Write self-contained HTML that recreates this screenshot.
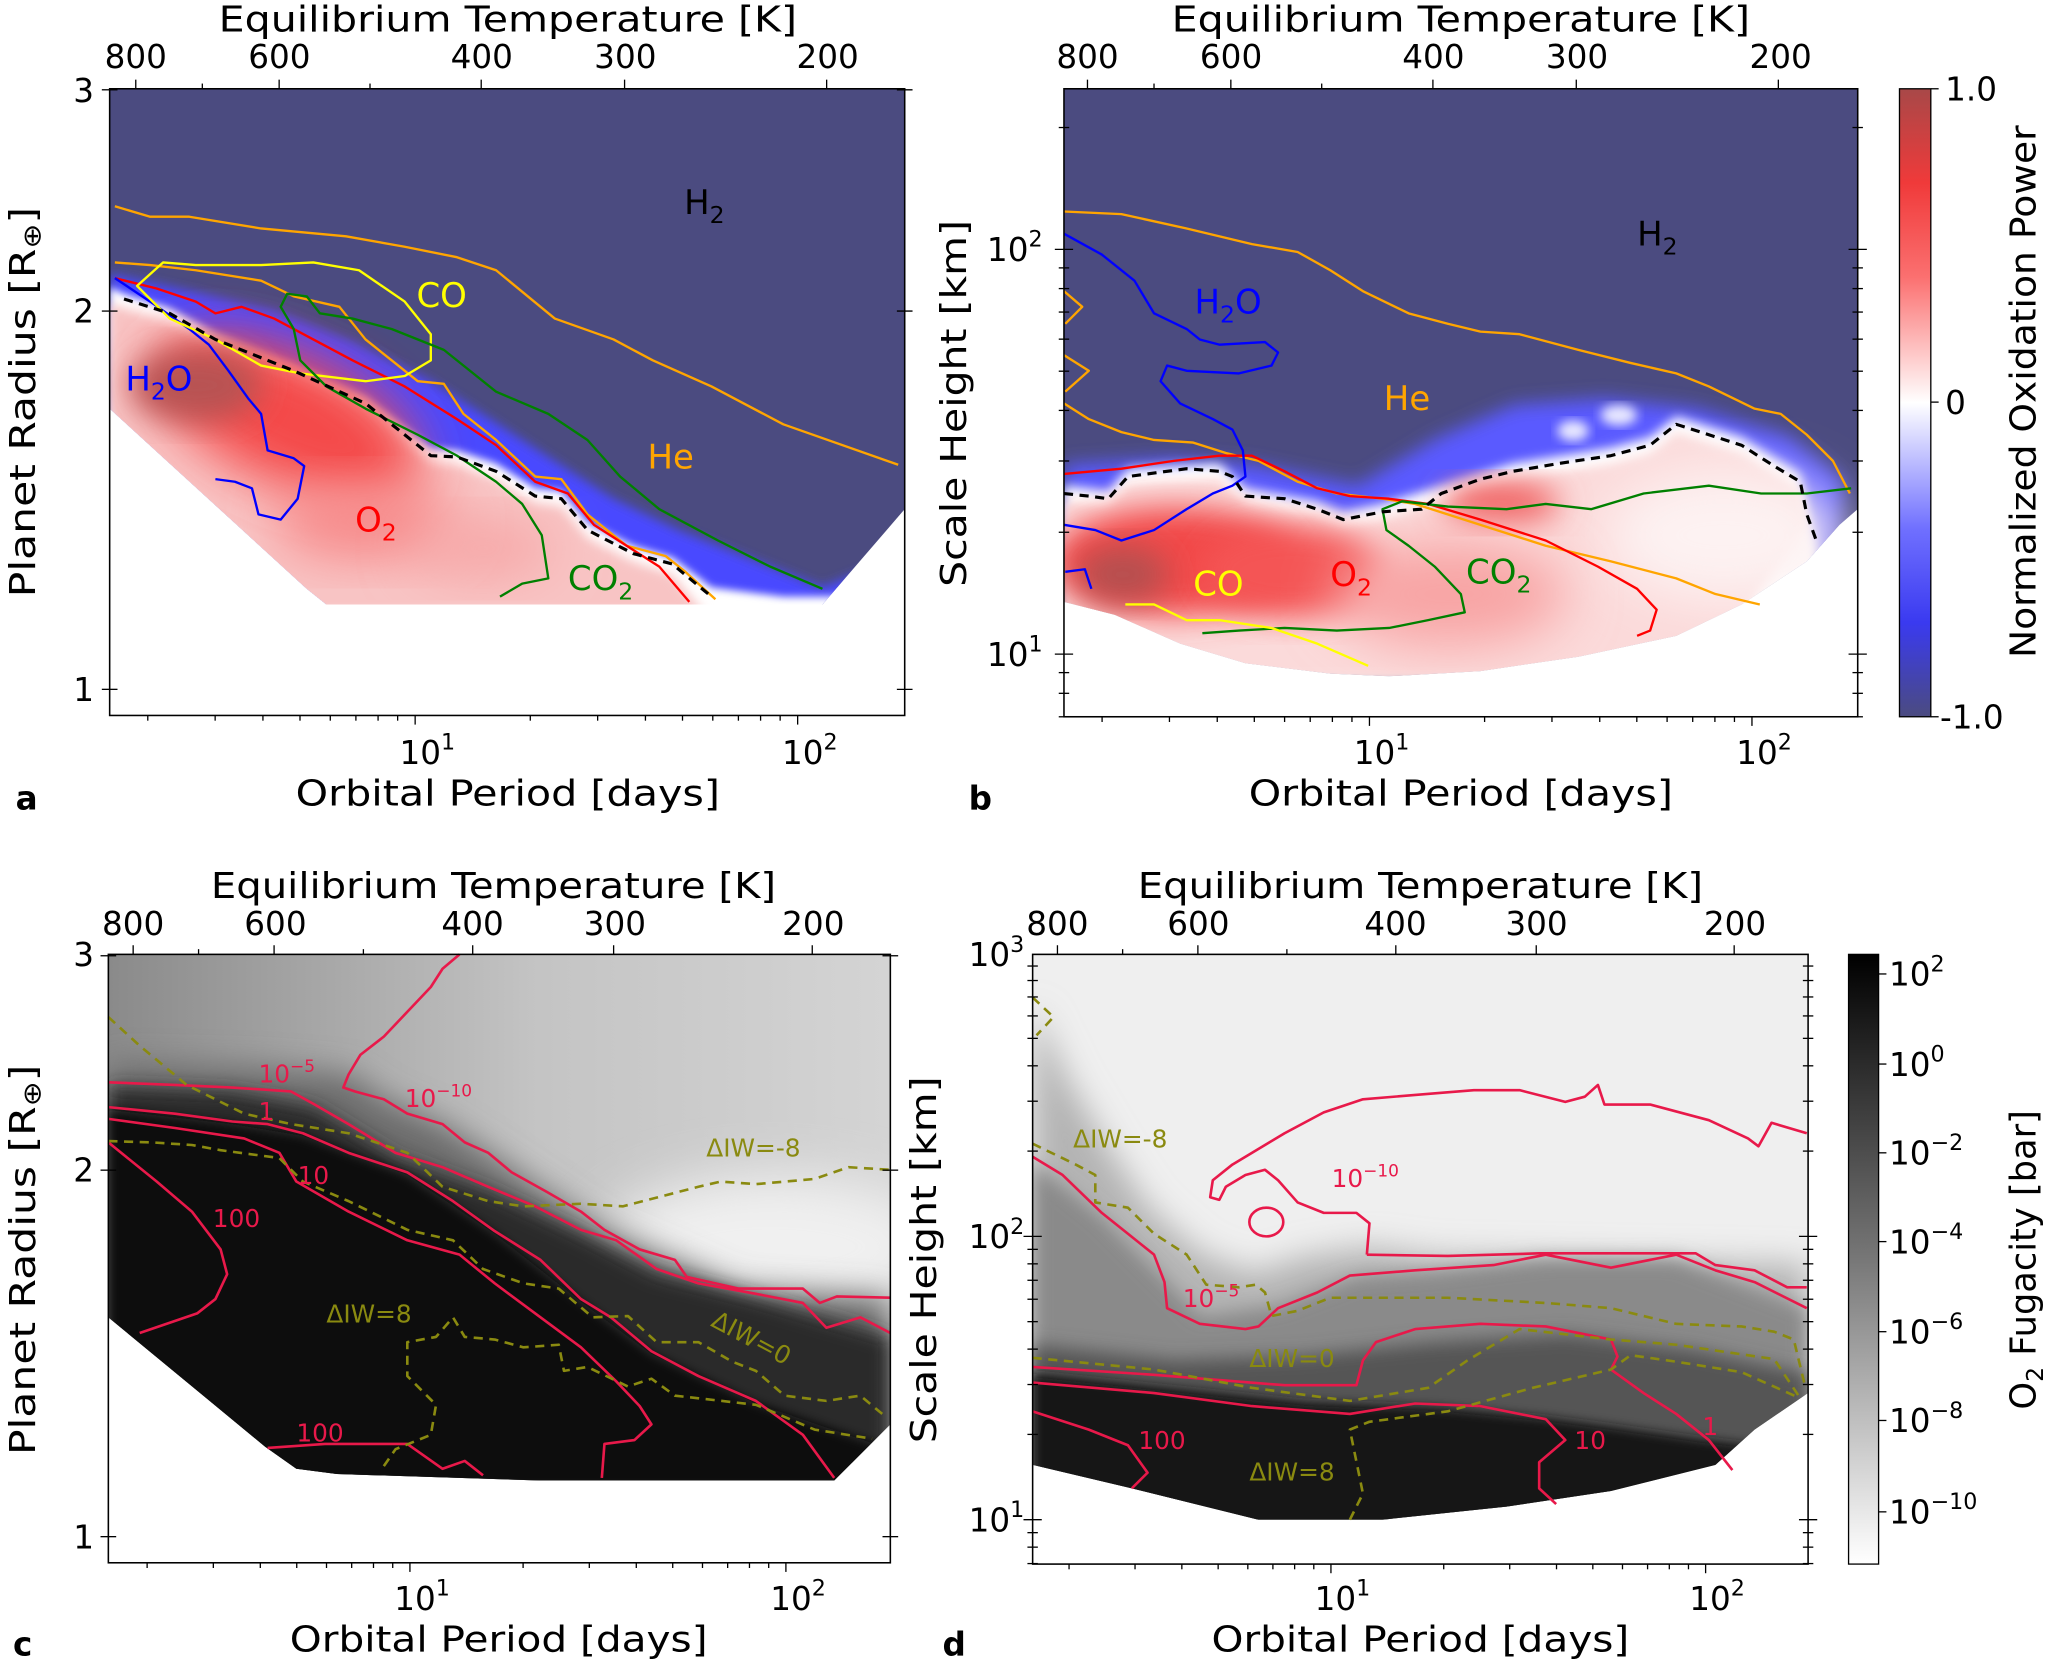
<!DOCTYPE html>
<html><head><meta charset="utf-8"><style>html,body{margin:0;padding:0;background:#fff}svg{display:block}</style></head>
<body>
<svg xmlns="http://www.w3.org/2000/svg" width="2047" height="1662" viewBox="0 0 1568 1273" preserveAspectRatio="none" font-family="DejaVu Sans, Liberation Sans, sans-serif">
<defs>
<filter id="b3" x="-20%" y="-20%" width="140%" height="140%"><feGaussianBlur stdDeviation="3"/></filter>
<filter id="b4" x="-20%" y="-20%" width="140%" height="140%"><feGaussianBlur stdDeviation="4"/></filter>
<filter id="b7" x="-20%" y="-20%" width="140%" height="140%"><feGaussianBlur stdDeviation="7"/></filter>
<filter id="b12" x="-30%" y="-30%" width="160%" height="160%"><feGaussianBlur stdDeviation="12"/></filter>
<filter id="b20" x="-40%" y="-40%" width="180%" height="180%"><feGaussianBlur stdDeviation="20"/></filter>
<clipPath id="ca"><polygon points="84,68 693,68 693,390 630,463 250,463 235,451 84,313"/></clipPath>
<clipPath id="cb"><polygon points="815,68 1423,68 1423,390 1409,402 1384,430 1334,463 1284,487 1209,503 1134,514 1064,518 1019,516 954,508 904,493 854,471 815,461"/></clipPath>
<clipPath id="cc"><polygon points="83,731 682,731 682,1091 639,1134 414,1134 258,1129 227,1125 203,1108 83,1009"/></clipPath>
<clipPath id="cd"><polygon points="791,731 1385,731 1385,1067 1344,1095 1314,1122 1234,1142 1154,1154 1059,1164 964,1164 867,1140 791,1122"/></clipPath>
<linearGradient id="gc" x1="0" y1="0" x2="1" y2="0"><stop offset="0" stop-color="#8a8a8a"/><stop offset="0.55" stop-color="#c4c4c4"/><stop offset="1" stop-color="#d4d4d4"/></linearGradient>
<linearGradient id="cbb" x1="0" y1="0" x2="0" y2="1"><stop offset="0" stop-color="#a84848"/><stop offset="0.15" stop-color="#f03a3a"/><stop offset="0.3" stop-color="#fb7070"/><stop offset="0.5" stop-color="#ffffff"/><stop offset="0.7" stop-color="#7070ff"/><stop offset="0.85" stop-color="#3a3af0"/><stop offset="1" stop-color="#4b4b80"/></linearGradient>
<linearGradient id="cbd" x1="0" y1="0" x2="0" y2="1"><stop offset="0" stop-color="#000"/><stop offset="0.5" stop-color="#777"/><stop offset="1" stop-color="#fff"/></linearGradient>
</defs>

<!-- ===== Panel a ===== -->
<g clip-path="url(#ca)">
<rect x="84" y="68" width="609" height="400" fill="#4b4b80"/>
<polygon filter="url(#b4)" fill="#4848ff" points="84,210 150,224 210,238 270,262 330,292 380,324 420,350 470,382 520,406 570,426 630,450 693,425 693,480 84,480"/>
<polygon filter="url(#b3)" fill="#ffffff" points="84,220 95,225 130,236 165,255 225,279 280,304 330,343 350,345 380,355 410,374 430,376 450,400 485,418 515,427 545,450 600,457 693,457 693,480 84,480"/>
<polygon filter="url(#b4)" fill="#f8c4c4" points="84,232 95,236 130,247 165,266 225,290 280,315 330,355 350,356 380,367 410,386 430,388 450,412 485,430 515,440 540,470 84,470"/>
<ellipse cx="220" cy="320" rx="110" ry="50" transform="rotate(25 220 320)" fill="#f44848" filter="url(#b20)"/>
<ellipse cx="150" cy="295" rx="50" ry="28" fill="#b85252" filter="url(#b12)"/>
<ellipse cx="280" cy="400" rx="70" ry="28" fill="#f78a8a" filter="url(#b20)"/>
<ellipse cx="370" cy="420" rx="55" ry="22" fill="#f6a6a6" filter="url(#b20)"/>
</g>
<g fill="none" stroke-width="1.8" stroke-linejoin="round">
<polyline stroke="#ffa500" points="88,158 115,166 145,166 200,175 265,181 310,189 350,197 380,207 425,244 470,260 500,276 545,296 600,325 688,356"/>
<polyline stroke="#ffa500" points="88,201 115,203 150,207 200,215 225,227 260,235 280,260 300,276 320,292 340,294 355,317 380,337 410,365 430,367 450,394 480,418 510,426 525,438 548,459"/>
<polyline stroke="#ff0000" points="88,213 120,221 150,231 165,240 185,235 210,244 240,260 270,276 310,296 350,321 380,341 410,369 435,378 455,402 480,418 505,434 528,461"/>
<polyline stroke="#0000ff" points="88,213 115,231 145,252 160,264 175,284 190,305 200,317 205,345 225,351 233,357 228,382 215,398 198,394 193,374 180,369 165,367"/>
<polygon stroke="#ffff00" points="105,219 125,201 150,203 200,203 240,201 275,207 310,231 330,256 330,276 310,288 280,292 230,286 200,280 165,260 130,244"/>
<polyline stroke="#008000" points="383,457 400,447 420,443 415,410 400,386 380,369 350,349 320,333 280,313 250,296 230,276 225,252 215,235 220,225 235,227 245,240 270,244 300,252 340,268 380,300 420,317 450,337 475,365 505,390 550,414 590,434 630,451"/>
<polyline stroke="#000" stroke-width="2.4" stroke-dasharray="7,5" points="95,229 130,240 165,260 225,284 280,309 330,349 350,350 380,361 410,380 430,382 450,406 485,424 515,432 545,457"/>
</g>
<g font-size="26">
<text x="524" y="164" fill="#000">H<tspan font-size="18" dy="7">2</tspan></text>
<text x="319" y="235" fill="#ffff00">CO</text>
<text x="96" y="299" fill="#0000ff">H<tspan font-size="18" dy="7">2</tspan><tspan dy="-7">O</tspan></text>
<text x="496" y="359" fill="#ffa500">He</text>
<text x="272" y="407" fill="#ff0000">O<tspan font-size="18" dy="7">2</tspan></text>
<text x="435" y="452" fill="#008000">CO<tspan font-size="18" dy="7">2</tspan></text>
</g>
<rect x="84" y="68" width="609" height="480" fill="none" stroke="#000" stroke-width="1.2"/>

<!-- ===== Panel b ===== -->
<g clip-path="url(#cb)">
<rect x="815" y="68" width="608" height="460" fill="#4b4b80"/>
<polygon filter="url(#b7)" fill="#5a5aff" points="815,356 900,351 960,356 1040,372 1100,336 1160,310 1230,305 1300,313 1370,334 1412,368 1405,430 815,430"/>
<polygon filter="url(#b4)" fill="#ffffff" points="815,372 849,376 864,359 934,355 954,374 1009,384 1029,392 1059,386 1104,372 1159,355 1234,343 1264,335 1284,319 1334,335 1379,363 1384,390 1392,420 1392,520 815,520"/>
<ellipse cx="1205" cy="330" rx="12" ry="8" fill="#e8e8ff" filter="url(#b4)"/>
<ellipse cx="1240" cy="318" rx="14" ry="8" fill="#e8e8ff" filter="url(#b4)"/>
<polygon filter="url(#b4)" fill="#fbdada" points="815,384 849,388 864,371 934,367 954,386 1009,396 1029,404 1059,398 1104,384 1159,367 1234,355 1264,347 1284,331 1334,347 1379,375 1384,400 1300,520 815,520"/>
<ellipse cx="1320" cy="410" rx="90" ry="50" fill="#fdf2f2" filter="url(#b20)"/>
<ellipse cx="900" cy="430" rx="95" ry="42" fill="#f24848" filter="url(#b12)"/>
<ellipse cx="990" cy="438" rx="70" ry="35" fill="#f45555" filter="url(#b12)"/>
<ellipse cx="860" cy="440" rx="35" ry="22" fill="#b55050" filter="url(#b12)"/>
<ellipse cx="1150" cy="385" rx="45" ry="16" fill="#f06060" filter="url(#b12)"/>
<ellipse cx="1110" cy="455" rx="90" ry="40" fill="#f8a4a4" filter="url(#b20)"/>
</g>
<g fill="none" stroke-width="1.8" stroke-linejoin="round">
<polyline stroke="#ffa500" points="815,162 859,164 909,175 959,187 994,193 1019,207 1044,223 1079,240 1109,248 1134,254 1164,256 1209,268 1249,278 1284,286 1309,296 1344,313 1364,317 1384,333 1404,353 1417,378"/>
<polyline stroke="#ffa500" points="815,223 829,235 816,248"/>
<polyline stroke="#ffa500" points="815,272 834,284 816,300"/>
<polyline stroke="#ffa500" points="815,309 834,321 859,331 884,337 914,339 939,347 964,353 994,369 1024,378 1059,382 1084,386 1134,402 1184,418 1234,430 1284,443 1314,455 1348,463"/>
<polyline stroke="#ff0000" points="815,363 859,359 899,353 934,349 959,349 984,361 1009,374 1034,380 1064,382 1094,386 1134,398 1184,414 1224,434 1254,451 1269,467 1264,483 1254,487"/>
<polyline stroke="#0000ff" points="815,179 844,195 869,215 884,240 909,252 919,260 934,264 969,262 979,270 974,280 949,286 909,284 894,280 889,292 904,309 929,321 944,329 952,345 954,365 944,372 929,378 909,390 884,406 859,414 839,406 815,402"/>
<polyline stroke="#0000ff" points="816,438 831,436 836,451"/>
<polyline stroke="#008000" points="921,485 949,483 984,481 1024,483 1064,481 1094,475 1122,469 1119,455 1099,434 1079,418 1062,406 1059,390 1074,384 1109,388 1154,390 1184,386 1219,390 1259,378 1309,372 1349,378 1384,378 1418,374"/>
<polyline stroke="#ffff00" points="862,463 884,463 909,475 934,475 974,481 1009,493 1048,510"/>
<polyline stroke="#000" stroke-width="2.4" stroke-dasharray="7,5" points="815,378 834,380 849,382 864,365 909,359 934,361 944,365 954,380 984,382 1009,390 1029,398 1059,392 1089,390 1104,378 1134,367 1159,361 1194,355 1234,349 1264,341 1284,325 1309,333 1334,341 1359,357 1379,369 1384,394 1392,416"/>
</g>
<g font-size="26">
<text x="1254" y="188" fill="#000">H<tspan font-size="18" dy="7">2</tspan></text>
<text x="915" y="240" fill="#0000ff">H<tspan font-size="18" dy="7">2</tspan><tspan dy="-7">O</tspan></text>
<text x="1060" y="314" fill="#ffa500">He</text>
<text x="914" y="456" fill="#ffff00">CO</text>
<text x="1019" y="449" fill="#ff0000">O<tspan font-size="18" dy="7">2</tspan></text>
<text x="1123" y="447" fill="#008000">CO<tspan font-size="18" dy="7">2</tspan></text>
</g>
<rect x="815" y="68" width="608" height="481" fill="none" stroke="#000" stroke-width="1.2"/>
<rect x="1455" y="68" width="24" height="481" fill="url(#cbb)" stroke="#000" stroke-width="1"/>

<!-- ===== Panel c ===== -->
<g clip-path="url(#cc)">
<rect x="83" y="731" width="599" height="410" fill="url(#gc)"/>
<ellipse cx="590" cy="955" rx="130" ry="55" fill="#f0f0f0" filter="url(#b20)"/>
<polygon filter="url(#b12)" fill="#6c6c6c" points="83,815 200,818 267,823 294,842 339,861 374,883 419,913 463,942 517,965 566,987 682,994 682,1140 83,1140"/>
<polygon filter="url(#b7)" fill="#2c2c2c" points="83,832 178,836 241,848 303,886 374,912 445,945 503,975 579,994 682,1024 682,1140 83,1140"/>
<polygon filter="url(#b4)" fill="#0c0c0c" points="83,850 178,861 232,870 312,900 379,945 445,997 499,1037 579,1075 682,1110 682,1140 83,1140"/>
</g>
<g fill="none" stroke="#e8194a" stroke-width="2" stroke-linejoin="round">
<polyline points="352,731 339,742 330,756 294,794 276,808 267,823 263,833 272,836 294,842 312,853 339,861 356,875 374,883 392,898 419,913 445,928 463,942 490,957 517,965 526,978 566,987 615,987 628,998 641,993 682,994"/>
<polyline points="83,829 134,831 178,833 223,836 241,846 267,861 303,883 339,894 374,909 410,924 445,942 472,950 503,972 535,983 579,991 615,998 633,1017 659,1009 682,1021"/>
<polyline points="83,848 134,853 178,859 205,861 232,868 267,883 312,898 347,920 379,943 414,965 445,995 468,1009 499,1035 535,1054 579,1073 615,1099 639,1132"/>
<polyline points="83,857 134,864 187,872 214,883 227,905 267,928 312,950 352,961 379,983 414,1009 445,1032 472,1058 490,1077 499,1091 486,1103 463,1106 461,1132"/>
<polyline points="83,875 120,905 147,928 169,957 174,976 165,995 151,1006 107,1021"/>
<polyline points="205,1109 249,1106 312,1106 339,1125 356,1119 370,1130"/>
</g>
<g fill="none" stroke="#8a8a10" stroke-width="2" stroke-dasharray="7,5" stroke-linejoin="round">
<polyline points="83,779 107,801 143,831 187,853 223,861 267,868 312,883 339,909 374,920 401,924 445,922 477,924 508,916 535,909 552,905 579,907 624,903 650,894 682,896"/>
<polyline points="83,874 116,875 147,877 169,881 214,887 232,905 267,920 312,942 347,950 370,972 401,983 428,987 454,1009 481,1008 503,1028 535,1028 561,1043 579,1050 601,1069 633,1073 659,1069 677,1084"/>
<polyline points="294,1123 303,1110 330,1099 334,1076 312,1054 312,1028 334,1024 347,1009 356,1024 379,1026 401,1032 428,1030 432,1050 450,1047 481,1062 499,1056 517,1069 535,1071 579,1076 624,1095 668,1102"/>
</g>
<g font-size="19">
<text x="198" y="829" fill="#e8194a">10<tspan font-size="13" dy="-8">−5</tspan></text>
<text x="198" y="858" fill="#e8194a">1</text>
<text x="310" y="848" fill="#e8194a">10<tspan font-size="13" dy="-8">−10</tspan></text>
<text x="228" y="907" fill="#e8194a">10</text>
<text x="163" y="940" fill="#e8194a">100</text>
<text x="227" y="1104" fill="#e8194a">100</text>
<text x="541" y="886" fill="#8a8a10">ΔIW=-8</text>
<text x="250" y="1013" fill="#8a8a10">ΔIW=8</text>
<text x="541" y="1030" fill="#8a8a10" transform="rotate(28 572 1028)">ΔIW=0</text>
</g>
<rect x="83" y="731" width="599" height="466" fill="none" stroke="#000" stroke-width="1.2"/>

<!-- ===== Panel d ===== -->
<g clip-path="url(#cd)">
<rect x="791" y="731" width="594" height="440" fill="#efefef"/>
<polygon filter="url(#b12)" fill="#b4b4b4" points="791,770 820,830 850,880 880,925 920,960 960,975 1000,962 1050,955 1100,962 1385,968 1385,1200 791,1200"/>
<polygon filter="url(#b7)" fill="#8a8a8a" points="791,890 844,932 884,972 920,1008 980,1000 1040,978 1100,974 1184,964 1284,964 1384,1002 1385,1200 791,1200"/>
<polygon filter="url(#b7)" fill="#555555" points="791,1030 900,1042 1000,1038 1100,1028 1200,1022 1300,1034 1385,1052 1385,1200 791,1200"/>
<polygon filter="url(#b4)" fill="#151515" points="791,1052 884,1062 1000,1074 1100,1078 1184,1086 1230,1092 1300,1102 1385,1112 1385,1200 791,1200"/>
</g>
<g fill="none" stroke="#e8194a" stroke-width="2" stroke-linejoin="round">
<polyline points="1384,868 1357,860 1347,878 1339,872 1309,858 1264,846 1229,846 1224,831 1214,840 1199,844 1164,835 1129,835 1104,837 1044,842 1014,852 984,868 944,892 929,904 927,917 934,919 939,909 954,900 969,896 979,904 994,921 1014,929 1039,929 1049,937 1047,961"/>
<polyline points="1047,961 1109,962 1179,960 1299,960 1314,969 1344,973 1369,986 1384,986"/>
<ellipse cx="970" cy="936" rx="13" ry="11"/>
<polyline points="791,886 814,900 844,929 864,945 884,961 892,982 894,1002 919,1014 954,1018 964,1016 979,1002 1009,990 1034,977 1084,973 1144,969 1184,961 1234,971 1284,961 1314,973 1344,982 1384,1002"/>
<polyline points="791,1047 884,1053 984,1061 1039,1061 1044,1042 1054,1028 1084,1018 1134,1014 1184,1016 1234,1026 1239,1039 1234,1049 1259,1067 1284,1083 1309,1103 1327,1126"/>
<polyline points="791,1059 884,1067 959,1077 1034,1083 1084,1075 1134,1077 1184,1087 1199,1103 1179,1120 1179,1140 1192,1152"/>
<polyline points="791,1081 834,1095 864,1107 879,1128 867,1140"/>
</g>
<g fill="none" stroke="#8a8a10" stroke-width="2" stroke-dasharray="7,5" stroke-linejoin="round">
<polyline points="791,764 807,779 794,793"/>
<polyline points="791,876 824,892 839,900 839,921 864,925 884,945 909,961 924,984 949,986 962,984 969,990 974,1008 994,1004 1019,994 1044,994 1109,994 1184,998 1234,1002 1284,1014 1334,1016 1359,1020 1374,1026 1382,1059"/>
<polyline points="791,1040 884,1049 959,1063 1034,1073 1094,1063 1124,1042 1164,1018 1234,1026 1284,1030 1359,1041 1379,1071"/>
<polyline points="1034,1164 1044,1144 1034,1095 1049,1089 1109,1081 1174,1063 1234,1049 1249,1038 1284,1043 1334,1051 1379,1071"/>
</g>
<g font-size="19">
<text x="822" y="879" fill="#8a8a10">ΔIW=-8</text>
<text x="1020" y="909" fill="#e8194a">10<tspan font-size="13" dy="-8">−10</tspan></text>
<text x="906" y="1001" fill="#e8194a">10<tspan font-size="13" dy="-8">−5</tspan></text>
<text x="957" y="1047" fill="#8a8a10">ΔIW=0</text>
<text x="872" y="1110" fill="#e8194a">100</text>
<text x="957" y="1134" fill="#8a8a10">ΔIW=8</text>
<text x="1206" y="1110" fill="#e8194a">10</text>
<text x="1304" y="1099" fill="#e8194a">1</text>
</g>
<rect x="791" y="731" width="594" height="467" fill="none" stroke="#000" stroke-width="1.2"/>
<rect x="1416" y="731" width="23" height="467" fill="url(#cbd)" stroke="#000" stroke-width="1"/>

<!-- ticks -->
<g id="tk" stroke="#000" stroke-width="1"></g>

<!-- axis text -->
<g font-size="27" fill="#000">
<text x="389" y="24" text-anchor="middle" textLength="443" lengthAdjust="spacingAndGlyphs">Equilibrium Temperature [K]</text>
<text x="1119" y="24" text-anchor="middle" textLength="443" lengthAdjust="spacingAndGlyphs">Equilibrium Temperature [K]</text>
<text x="378" y="688" text-anchor="middle" textLength="433" lengthAdjust="spacingAndGlyphs">Equilibrium Temperature [K]</text>
<text x="1088" y="688" text-anchor="middle" textLength="433" lengthAdjust="spacingAndGlyphs">Equilibrium Temperature [K]</text>
<text x="389" y="617" text-anchor="middle" textLength="325" lengthAdjust="spacingAndGlyphs">Orbital Period [days]</text>
<text x="1119" y="617" text-anchor="middle" textLength="325" lengthAdjust="spacingAndGlyphs">Orbital Period [days]</text>
<text x="382" y="1265" text-anchor="middle" textLength="320" lengthAdjust="spacingAndGlyphs">Orbital Period [days]</text>
<text x="1088" y="1265" text-anchor="middle" textLength="320" lengthAdjust="spacingAndGlyphs">Orbital Period [days]</text>
<text transform="translate(27,308) rotate(-90)" text-anchor="middle" textLength="299" lengthAdjust="spacingAndGlyphs">Planet Radius [R<tspan font-size="19" dy="4">⊕</tspan><tspan dy="-4">]</tspan></text>
<text transform="translate(27,965) rotate(-90)" text-anchor="middle" textLength="299" lengthAdjust="spacingAndGlyphs">Planet Radius [R<tspan font-size="19" dy="4">⊕</tspan><tspan dy="-4">]</tspan></text>
<text transform="translate(740,309) rotate(-90)" text-anchor="middle" textLength="281" lengthAdjust="spacingAndGlyphs">Scale Height [km]</text>
<text transform="translate(717,965) rotate(-90)" text-anchor="middle" textLength="281" lengthAdjust="spacingAndGlyphs">Scale Height [km]</text>
<text transform="translate(1559,300) rotate(-90)" text-anchor="middle" textLength="408" lengthAdjust="spacingAndGlyphs">Normalized Oxidation Power</text>
<text transform="translate(1559,965) rotate(-90)" text-anchor="middle">O<tspan font-size="18" dy="6">2</tspan><tspan dy="-6"> Fugacity [bar]</tspan></text>
</g>
<g font-size="25" font-weight="bold"><text x="12" y="620">a</text><text x="742" y="620">b</text><text x="10" y="1268">c</text><text x="722" y="1268">d</text></g>
<g font-size="25" text-anchor="middle">
<text x="104" y="52">800</text><text x="214" y="52">600</text><text x="369" y="52">400</text><text x="479" y="52">300</text><text x="634" y="52">200</text>
<text x="833" y="52">800</text><text x="943" y="52">600</text><text x="1098" y="52">400</text><text x="1208" y="52">300</text><text x="1364" y="52">200</text>
<text x="102" y="716">800</text><text x="211" y="716">600</text><text x="362" y="716">400</text><text x="471" y="716">300</text><text x="623" y="716">200</text>
<text x="810" y="716">800</text><text x="918" y="716">600</text><text x="1069" y="716">400</text><text x="1177" y="716">300</text><text x="1329" y="716">200</text>
</g>
<g font-size="25">
<text x="306" y="585">10<tspan font-size="17" dy="-11">1</tspan></text><text x="599" y="585">10<tspan font-size="17" dy="-11">2</tspan></text>
<text x="1037" y="585">10<tspan font-size="17" dy="-11">1</tspan></text><text x="1330" y="585">10<tspan font-size="17" dy="-11">2</tspan></text>
<text x="302" y="1233">10<tspan font-size="17" dy="-11">1</tspan></text><text x="590" y="1233">10<tspan font-size="17" dy="-11">2</tspan></text>
<text x="1007" y="1233">10<tspan font-size="17" dy="-11">1</tspan></text><text x="1294" y="1233">10<tspan font-size="17" dy="-11">2</tspan></text>
</g>
<g font-size="25" text-anchor="end">
<text x="72" y="78">3</text><text x="72" y="247">2</text><text x="72" y="537">1</text>
<text x="72" y="740">3</text><text x="72" y="905">2</text><text x="72" y="1186">1</text>
</g>
<g font-size="25">
<text x="756" y="200">10<tspan font-size="17" dy="-11">2</tspan></text><text x="756" y="510">10<tspan font-size="17" dy="-11">1</tspan></text>
<text x="742" y="740">10<tspan font-size="17" dy="-11">3</tspan></text><text x="742" y="956">10<tspan font-size="17" dy="-11">2</tspan></text><text x="742" y="1173">10<tspan font-size="17" dy="-11">1</tspan></text>
<text x="1490" y="77">1.0</text><text x="1490" y="317">0</text><text x="1486" y="558">-1.0</text>
<text x="1447" y="755">10<tspan font-size="17" dy="-11">2</tspan></text>
<text x="1447" y="824">10<tspan font-size="17" dy="-11">0</tspan></text>
<text x="1447" y="892">10<tspan font-size="17" dy="-11">−2</tspan></text>
<text x="1447" y="960">10<tspan font-size="17" dy="-11">−4</tspan></text>
<text x="1447" y="1029">10<tspan font-size="17" dy="-11">−6</tspan></text>
<text x="1447" y="1097">10<tspan font-size="17" dy="-11">−8</tspan></text>
<text x="1447" y="1167">10<tspan font-size="17" dy="-11">−10</tspan></text>
</g>
</svg>
<script>
(function(){
var NS='http://www.w3.org/2000/svg',g=document.getElementById('tk');
function L(a,b,c,d){var e=document.createElementNS(NS,'line');e.setAttribute('x1',a);e.setAttribute('y1',b);e.setAttribute('x2',c);e.setAttribute('y2',d);g.appendChild(e);}
var P=[{L:84,R:693,T:68,B:548,x10:318,dec:293,t8:104,yt:'ln',y1:528,k:418},
{L:815,R:1423,T:68,B:549,x10:1049,dec:293,t8:833,yt:'log',y10:501,yd:310},
{L:83,R:682,T:731,B:1197,x10:314,dec:288,t8:102,yt:'ln',y1:1177,k:405},
{L:791,R:1385,T:731,B:1198,x10:1019.5,dec:287,t8:810,yt:'log',y10:1164,yd:217}];
P.forEach(function(p){
 [1,10,100].forEach(function(d){for(var m=1;m<=9;m++){var x=p.x10+p.dec*Math.log10(d*m/10);if(x>=p.L&&x<=p.R){var l=m==1?7:4;L(x,p.B,x,p.B+l);}}});
 [800,700,600,500,400,300,200].forEach(function(T){var x=p.t8+3*p.dec*Math.log10(800/T);var mj=(T!=700&&T!=500);L(x,p.T,x,p.T-(mj?7:4));});
 if(p.yt=='ln'){[1,2,3].forEach(function(v){var y=p.y1-p.k*Math.log(v);L(p.L-6,y,p.L+6,y);L(p.R-6,y,p.R+6,y);});}
 else{[0.1,1,10,100].forEach(function(d){for(var m=1;m<=9;m++){var y=p.y10-p.yd*Math.log10(d*m);if(y>=p.T-0.5&&y<=p.B+0.5){var l=m==1?7:4;L(p.L-l,y,p.L+l,y);L(p.R-l,y,p.R+l,y);}}});}
});
[68,308,549].forEach(function(y){L(1479,y,1485,y);});
[746,815,883,951,1020,1088,1158].forEach(function(y){L(1439,y,1445,y);});
})();
</script>
</body></html>
